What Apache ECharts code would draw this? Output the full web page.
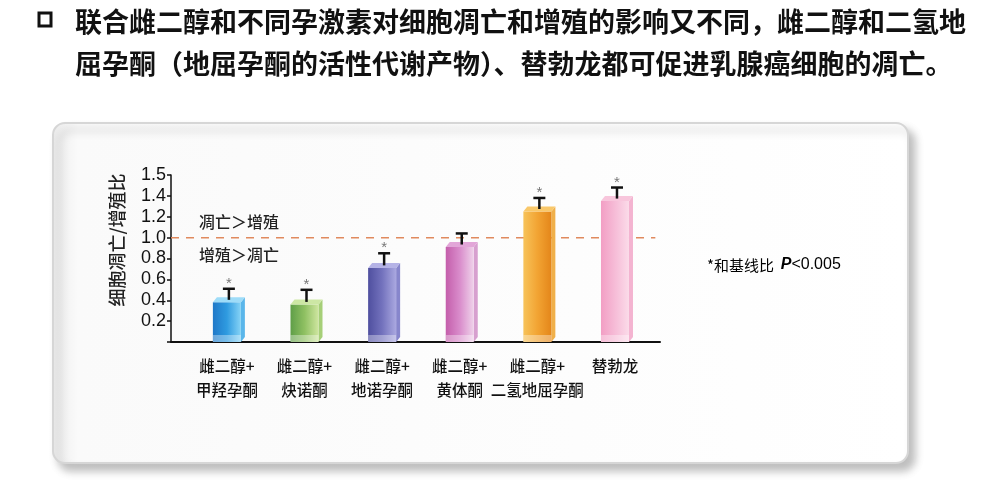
<!DOCTYPE html>
<html>
<head>
<meta charset="utf-8">
<script src="https://cdn.jsdelivr.net/npm/echarts@6/dist/echarts.min.js"></script>
<style>
  html, body { margin: 0; padding: 0; background: #fff; }
  #main { width: 981px; height: 486px; }
</style>
</head>
<body>
<div id="main"></div>
<script>
// 数据
var categories = ['雌二醇+\n甲羟孕酮', '雌二醇+\n炔诺酮', '雌二醇+\n地诺孕酮', '雌二醇+\n黄体酮', '雌二醇+\n二氢地屈孕酮', '替勃龙'];
var ratioValues = [0.38, 0.36, 0.71, 0.91, 1.25, 1.35];
var errorTops = [0.51, 0.50, 0.85, 1.04, 1.38, 1.48];
var significant = [1, 1, 1, 0, 1, 1];
var baseline = 1.0;
var yTickLabels = ['', '0.2', '0.4', '0.6', '0.8', '1.0', '1.2', '1.4', '1.5'];

// 柱子颜色 (正面渐变, 顶面, 侧面)
var barColors = [
    { front: ['#1f78c8', '#2f9be0', '#86d3f6'], top: '#9edcf8', side: '#5ab6ea' },
    { front: ['#5f9e48', '#8fc062', '#cfe6a0'], top: '#cde7a4', side: '#a6cf78' },
    { front: ['#4f4f9f', '#7372bd', '#aaa8e0'], top: '#b5b3e6', side: '#8786cc' },
    { front: ['#c45eab', '#d98ccb', '#efd2ea'], top: '#e2a6d8', side: '#d7a0cf' },
    { front: ['#f7c35a', '#f2a433', '#e4861a'], top: '#f9c86a', side: '#f0b04a' },
    { front: ['#f29ec4', '#f6bcd7', '#fbdbe9'], top: '#f8c6dc', side: '#f4b4d1' }
];

var xMin = -0.72, xMax = 5.58;

var barData = ratioValues.map(function (v, i) {
    return [i, v, errorTops[i], significant[i]];
});

function renderBar(params, api) {
    var i = api.value(0);
    var top = api.coord([i, api.value(1)]);
    var base = api.coord([i, 0]);
    var cap = api.coord([i, api.value(2)]);
    var c = barColors[i];
    var w = 28, dx = 4, dy = 5;
    var x0 = top[0] - w / 2;
    var cx = top[0] + dx / 2;
    var h = base[1] - top[1];
    var children = [
        {
            type: 'polygon',
            shape: { points: [[x0 + w, top[1]], [x0 + w + dx, top[1] - dy], [x0 + w + dx, base[1] - dy], [x0 + w, base[1]]] },
            style: { fill: c.side }
        },
        {
            type: 'rect',
            shape: { x: x0, y: top[1], width: w, height: h },
            style: {
                fill: new echarts.graphic.LinearGradient(0, 0, 1, 0, [
                    { offset: 0, color: c.front[0] },
                    { offset: 0.5, color: c.front[1] },
                    { offset: 1, color: c.front[2] }
                ])
            }
        },
        {
            type: 'rect',
            shape: { x: x0, y: base[1] - 7, width: w, height: 7 },
            style: { fill: 'rgba(255,255,255,0.35)' }
        },
        {
            type: 'polygon',
            shape: { points: [[x0, top[1]], [x0 + dx, top[1] - dy], [x0 + w + dx, top[1] - dy], [x0 + w, top[1]]] },
            style: { fill: c.top }
        },
        {
            type: 'line',
            shape: { x1: cx, y1: top[1] - dy / 2, x2: cx, y2: cap[1] },
            style: { stroke: '#111', lineWidth: 2.5 }
        },
        {
            type: 'line',
            shape: { x1: cx - 6, y1: cap[1], x2: cx + 6, y2: cap[1] },
            style: { stroke: '#111', lineWidth: 2.5 }
        }
    ];
    if (api.value(3)) {
        children.push({
            type: 'text',
            x: cx,
            y: cap[1] - 5,
            style: { text: '*', fill: '#777', fontSize: 15, fontFamily: 'Liberation Sans', align: 'center', verticalAlign: 'middle' }
        });
    }
    return { type: 'group', children: children };
}

var myChart = echarts.init(document.getElementById('main'));

let option = {
    backgroundColor: '#fff',
    animation: false,
    grid: {
        left: 171,
        right: 321,
        top: 175,
        bottom: 144,
        containLabel: false
    },
    xAxis: {
        type: 'value',
        min: xMin,
        max: xMax,
        splitLine: { show: false },
        axisTick: { show: false },
        axisLine: { onZero: false, lineStyle: { color: '#111', width: 2 } },
        axisLabel: {
            customValues: [0, 1, 2, 3, 4, 5],
            formatter: function (v) { return categories[Math.round(v)]; },
            color: '#111',
            fontSize: 15.5,
            fontWeight: 500,
            lineHeight: 24,
            margin: 12,
            fontFamily: 'Noto Sans CJK SC'
        }
    },
    yAxis: {
        type: 'value',
        min: 0,
        max: 1.6,
        interval: 0.2,
        splitLine: { show: false },
        axisLine: { show: true, onZero: false, lineStyle: { color: '#111', width: 1.5 } },
        axisTick: { show: true, length: 4, lineStyle: { color: '#111', width: 1.5 } },
        axisLabel: {
            formatter: function (v) { return yTickLabels[Math.round(v / 0.2)]; },
            color: '#111',
            fontSize: 18,
            margin: 5,
            fontFamily: 'Liberation Sans'
        }
    },
    series: [
        {
            // 基线 1.0
            type: 'line',
            data: [[xMin, baseline], [xMax - 0.06, baseline]],
            symbol: 'none',
            silent: true,
            lineStyle: { color: '#e08a5e', width: 1.5, type: [8, 7] },
            z: 1
        },
        {
            type: 'custom',
            renderItem: renderBar,
            data: barData,
            encode: { x: 0, y: 1 },
            z: 3
        }
    ],
    graphic: [
        {
            type: 'rect',
            z: -10,
            shape: { x: 53, y: 123, width: 855, height: 340, r: 12 },
            style: {
                fill: new echarts.graphic.LinearGradient(0, 0, 1, 0, [
                    { offset: 0, color: '#ececec' },
                    { offset: 0.03, color: '#fafafa' },
                    { offset: 1, color: '#ffffff' }
                ]),
                stroke: '#d6d6d6',
                lineWidth: 2,
                shadowBlur: 9,
                shadowOffsetX: 6,
                shadowOffsetY: 7,
                shadowColor: 'rgba(0,0,0,0.25)'
            }
        },
        {
            type: 'rect',
            shape: { x: 39, y: 13, width: 12, height: 13 },
            style: { fill: 'none', stroke: '#111', lineWidth: 3 }
        },
        {
            type: 'text',
            x: 75,
            y: 22,
            style: {
                text: '联合雌二醇和不同孕激素对细胞凋亡和增殖的影响又不同，雌二醇和二氢地',
                font: 'bold 27px "Noto Sans CJK SC"',
                fill: '#111',
                verticalAlign: 'middle'
            }
        },
        {
            type: 'text',
            x: 75,
            y: 64,
            style: {
                text: '屈孕酮（地屈孕酮的活性代谢产物）、替勃龙都可促进乳腺癌细胞的凋亡。',
                font: 'bold 27px "Noto Sans CJK SC"',
                fill: '#111',
                verticalAlign: 'middle'
            }
        },
        {
            // y轴名称
            type: 'text',
            x: 117,
            y: 240,
            rotation: Math.PI / 2,
            style: {
                text: '细胞凋亡/增殖比',
                font: '500 18px "Noto Sans CJK SC"',
                fill: '#222',
                align: 'center',
                verticalAlign: 'middle'
            }
        },
        {
            type: 'text',
            x: 199,
            y: 222,
            style: { text: '凋亡＞增殖', font: '500 16px "Noto Sans CJK SC"', fill: '#222', verticalAlign: 'middle' }
        },
        {
            type: 'text',
            x: 199,
            y: 255,
            style: { text: '增殖＞凋亡', font: '500 16px "Noto Sans CJK SC"', fill: '#222', verticalAlign: 'middle' }
        },
        {
            type: 'text',
            x: 707,
            y: 265,
            style: {
                text: '{a|*和基线比  }{b|P}{c|<0.005}',
                verticalAlign: 'middle',
                rich: {
                    a: { fontSize: 15, fontFamily: 'Noto Sans CJK SC', color: '#111' },
                    b: { fontSize: 16, fontFamily: 'Liberation Sans', fontWeight: 'bold', fontStyle: 'italic', color: '#111' },
                    c: { fontSize: 16, fontFamily: 'Liberation Sans', color: '#111' }
                }
            }
        }
    ]
};

myChart.setOption(option);
</script>
</body>
</html>
